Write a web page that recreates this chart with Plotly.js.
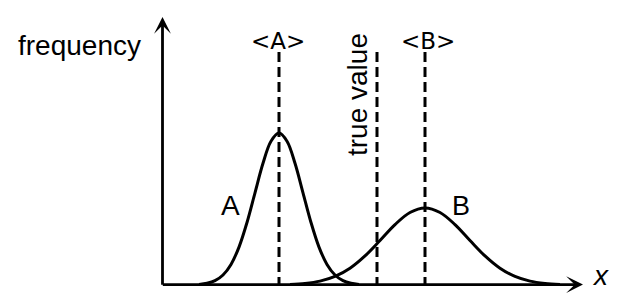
<!DOCTYPE html>
<html>
<head>
<meta charset="utf-8">
<script src="https://cdn.plot.ly/plotly-3.0.1.min.js"></script>
<style>html,body{margin:0;padding:0;background:#fff;}#chart{width:638px;height:306px;}</style>
</head>
<body>
<div id="chart"></div>
<script>
// Curve A (narrow distribution): x positions and frequency heights
const xA = [199, 207, 215, 223, 231, 239, 247, 255, 263, 271, 279, 287, 295, 303, 311, 319, 327, 335, 343, 351, 359];
const yA = [0.6, 1.7, 4.3, 10.0, 20.6, 37.9, 62.5, 92.2, 121.7, 143.8, 152, 143.8, 121.7, 92.2, 62.5, 37.9, 20.6, 10.0, 4.3, 1.7, 0.6];
// Curve B (wide distribution)
const xB = [290, 305, 320, 335, 350, 365, 380, 395, 410, 425, 440, 455, 470, 485, 500, 515, 530, 545, 560];
const yB = [0.56, 1.6, 3.9, 8.6, 16.8, 29.1, 44.5, 60.4, 72.5, 77, 72.5, 60.4, 44.5, 29.1, 16.8, 8.6, 3.9, 1.6, 0.56];
// Reference positions
const markerNames = ["&lt;A&gt;", "true value", "&lt;B&gt;"];
const markerX = [279, 377, 425];
const markerTop = 233;
const curveLabels = ["A", "B"];
const axisLabels = ["frequency", "x"];

const FONT = "Liberation Sans, Arial, Helvetica, sans-serif";
const FONT2 = "DejaVu Sans, Verdana, sans-serif";
const dash = {color: "#000", width: 3, dash: "10px,5px"};

const traces = [];
markerX.forEach(function (mx) {
  traces.push({x: [mx, mx], y: [markerTop, 0], mode: "lines", line: dash, hoverinfo: "skip"});
});
traces.push({x: xA, y: yA, mode: "lines", line: {color: "#000", width: 3, shape: "spline", smoothing: 1}, hoverinfo: "skip"});
traces.push({x: xB, y: yB, mode: "lines", line: {color: "#000", width: 3, shape: "spline", smoothing: 1}, hoverinfo: "skip"});

// pixel -> data helpers (data space is laid out 1:1 with the page)
const Y0 = 285;
function dy(py) { return Y0 - py; }

function txt(text, x, py, size, extra, fam) {
  return Object.assign({
    text: text, x: x, y: dy(py), xref: "x", yref: "y",
    xanchor: "center", yanchor: "middle", showarrow: false,
    font: {family: fam || FONT, size: size, color: "#000"}
  }, extra || {});
}

const annotations = [
  // y axis arrow
  {x: 162.5, y: dy(17), ax: 162.5, ay: dy(286.2), xref: "x", yref: "y", axref: "x", ayref: "y",
   text: "", showarrow: true, arrowhead: 3, arrowsize: 1, arrowwidth: 2.8, arrowcolor: "#000", standoff: 0},
  // x axis arrow
  {x: 583, y: dy(284.6), ax: 161.3, ay: dy(284.6), xref: "x", yref: "y", axref: "x", ayref: "y",
   text: "", showarrow: true, arrowhead: 3, arrowsize: 1, arrowwidth: 2.8, arrowcolor: "#000", standoff: 0},
  txt(axisLabels[0], 79.5, 45, 28),
  txt(markerNames[0], 278.3, 41.3, 23, null, FONT2),
  txt(markerNames[2], 427.5, 41.3, 23, null, FONT2),
  txt(markerNames[1], 357, 95, 28, {textangle: -90}),
  txt(curveLabels[0], 230, 205.2, 28),
  txt(curveLabels[1], 461.3, 205.5, 27),
  txt("<i>" + axisLabels[1] + "</i>", 600.8, 275.2, 28)
];

const layout = {
  width: 638, height: 306,
  margin: {l: 0, r: 0, t: 0, b: 0, pad: 0},
  paper_bgcolor: "#fff", plot_bgcolor: "#fff",
  showlegend: false,
  xaxis: {range: [0, 638], visible: false, fixedrange: true},
  yaxis: {range: [-21, 285], visible: false, fixedrange: true},
  annotations: annotations
};

Plotly.newPlot("chart", traces, layout, {displayModeBar: false, staticPlot: true});
</script>
</body>
</html>
